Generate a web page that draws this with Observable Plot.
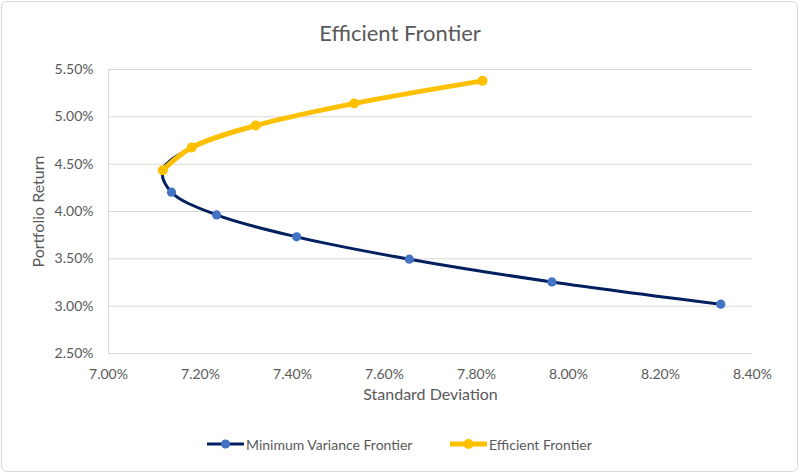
<!DOCTYPE html>
<html>
<head>
<meta charset="utf-8">
<script src="https://cdn.jsdelivr.net/npm/d3@7"></script>
<script src="https://cdn.jsdelivr.net/npm/@observablehq/plot@0.6"></script>
<style>
  html, body { margin: 0; padding: 0; background: #fff; }
  #wrap { position: relative; width: 800px; height: 475px; font-family: Lato, "Open Sans", sans-serif; color: #595959; }
  #border { position: absolute; left: 1px; top: 1px; width: 795px; height: 469px; border: 1px solid #d9d9d9; border-radius: 6px; }
  #title { position: absolute; left: 0; top: 20px; width: 800px; text-align: center; font-size: 22px; line-height: 26px; }
  #chart { position: absolute; left: 0; top: 50px; }
  #legend { position: absolute; left: 0; top: 434px; width: 800px; height: 20px; }
  .item { position: absolute; top: 0; height: 20px; display: flex; align-items: center; font-size: 14px; }
</style>
</head>
<body>
<div id="wrap">
  <div id="border"></div>
  <div id="title">Efficient Frontier</div>
  <div id="chart"></div>
  <div id="legend"></div>
</div>
<script>
// Lower (inefficient) part of the minimum variance frontier, from the global minimum down
const mvfSd  = [7.118, 7.137, 7.235, 7.409, 7.654, 7.964, 8.331];
const mvfRet = [4.436, 4.204, 3.964, 3.732, 3.496, 3.256, 3.021];
// Efficient frontier, from the global minimum up
const effSd  = [7.118, 7.181, 7.320, 7.534, 7.813];
const effRet = [4.436, 4.676, 4.908, 5.141, 5.380];

const xTicks = [7.0, 7.2, 7.4, 7.6, 7.8, 8.0, 8.2, 8.4];
const yTicks = [2.5, 3.0, 3.5, 4.0, 4.5, 5.0, 5.5];
const seriesNames = ["Minimum Variance Frontier", "Efficient Frontier"];
const lineColors = ["#002060", "#FFC000"];
const dotColors = ["#4472C4", "#FFC000"];

const lower = mvfSd.map((sd, i) => ({sd, ret: mvfRet[i]}));
const eff = effSd.map((sd, i) => ({sd, ret: effRet[i]}));
// full minimum variance frontier: efficient part (top to minimum) then lower part
const fullMvf = eff.slice(1).reverse().concat(lower);

const fmt = d => d.toFixed(2) + "%";

const chart = Plot.plot({
  width: 800,
  height: 365,
  marginLeft: 108,
  marginRight: 48,
  marginTop: 19,
  marginBottom: 62,
  x: {domain: [7.0, 8.4]},
  y: {domain: [2.5, 5.5]},
  style: {fontFamily: "Lato, 'Open Sans', sans-serif", fontSize: "14px", color: "#595959", background: "transparent", overflow: "visible"},
  marks: [
    Plot.gridY(yTicks, {stroke: "#d9d9d9", strokeOpacity: 1, strokeWidth: 1}),
    Plot.ruleX([7.0], {stroke: "#d9d9d9", strokeWidth: 1}),
    Plot.axisX({ticks: xTicks, tickSize: 0, tickPadding: 16, tickFormat: fmt, label: null, fontSize: 14}),
    Plot.axisY({ticks: yTicks, tickSize: 0, tickPadding: 15, tickFormat: fmt, label: null, fontSize: 14}),
    Plot.text(["Standard Deviation"], {frameAnchor: "bottom", dy: 46, text: d => d, fontSize: 16, fill: "#595959"}),
    Plot.text(["Portfolio Return"], {frameAnchor: "left", dx: -70, rotate: -90, textAnchor: "middle", text: d => d, fontSize: 16, fill: "#595959"}),
    Plot.line(fullMvf, {x: "sd", y: "ret", stroke: lineColors[0], strokeWidth: 3, curve: "catmull-rom"}),
    Plot.dot(lower.slice(1), {x: "sd", y: "ret", r: 4.6, fill: dotColors[0], stroke: "none"}),
    Plot.line(eff, {x: "sd", y: "ret", stroke: lineColors[1], strokeWidth: 5, curve: "catmull-rom"}),
    Plot.dot(eff, {x: "sd", y: "ret", r: 5, fill: dotColors[1], stroke: "none"})
  ]
});
document.getElementById("chart").appendChild(chart);

// legend
const legend = document.getElementById("legend");
const legendX = [207, 450];
const lineW = [3, 5];
const dotR = [4.6, 5];
seriesNames.forEach((name, i) => {
  const item = document.createElement("div");
  item.className = "item";
  item.style.left = legendX[i] + "px";
  item.innerHTML =
    `<svg width="38" height="20" style="display:block">
       <line x1="0" x2="37" y1="10" y2="10" stroke="${lineColors[i]}" stroke-width="${lineW[i]}"/>
       <circle cx="18.5" cy="10" r="${dotR[i]}" fill="${dotColors[i]}"/>
     </svg><span style="margin-left:1px">${name}</span>`;
  legend.appendChild(item);
});
</script>
</body>
</html>
